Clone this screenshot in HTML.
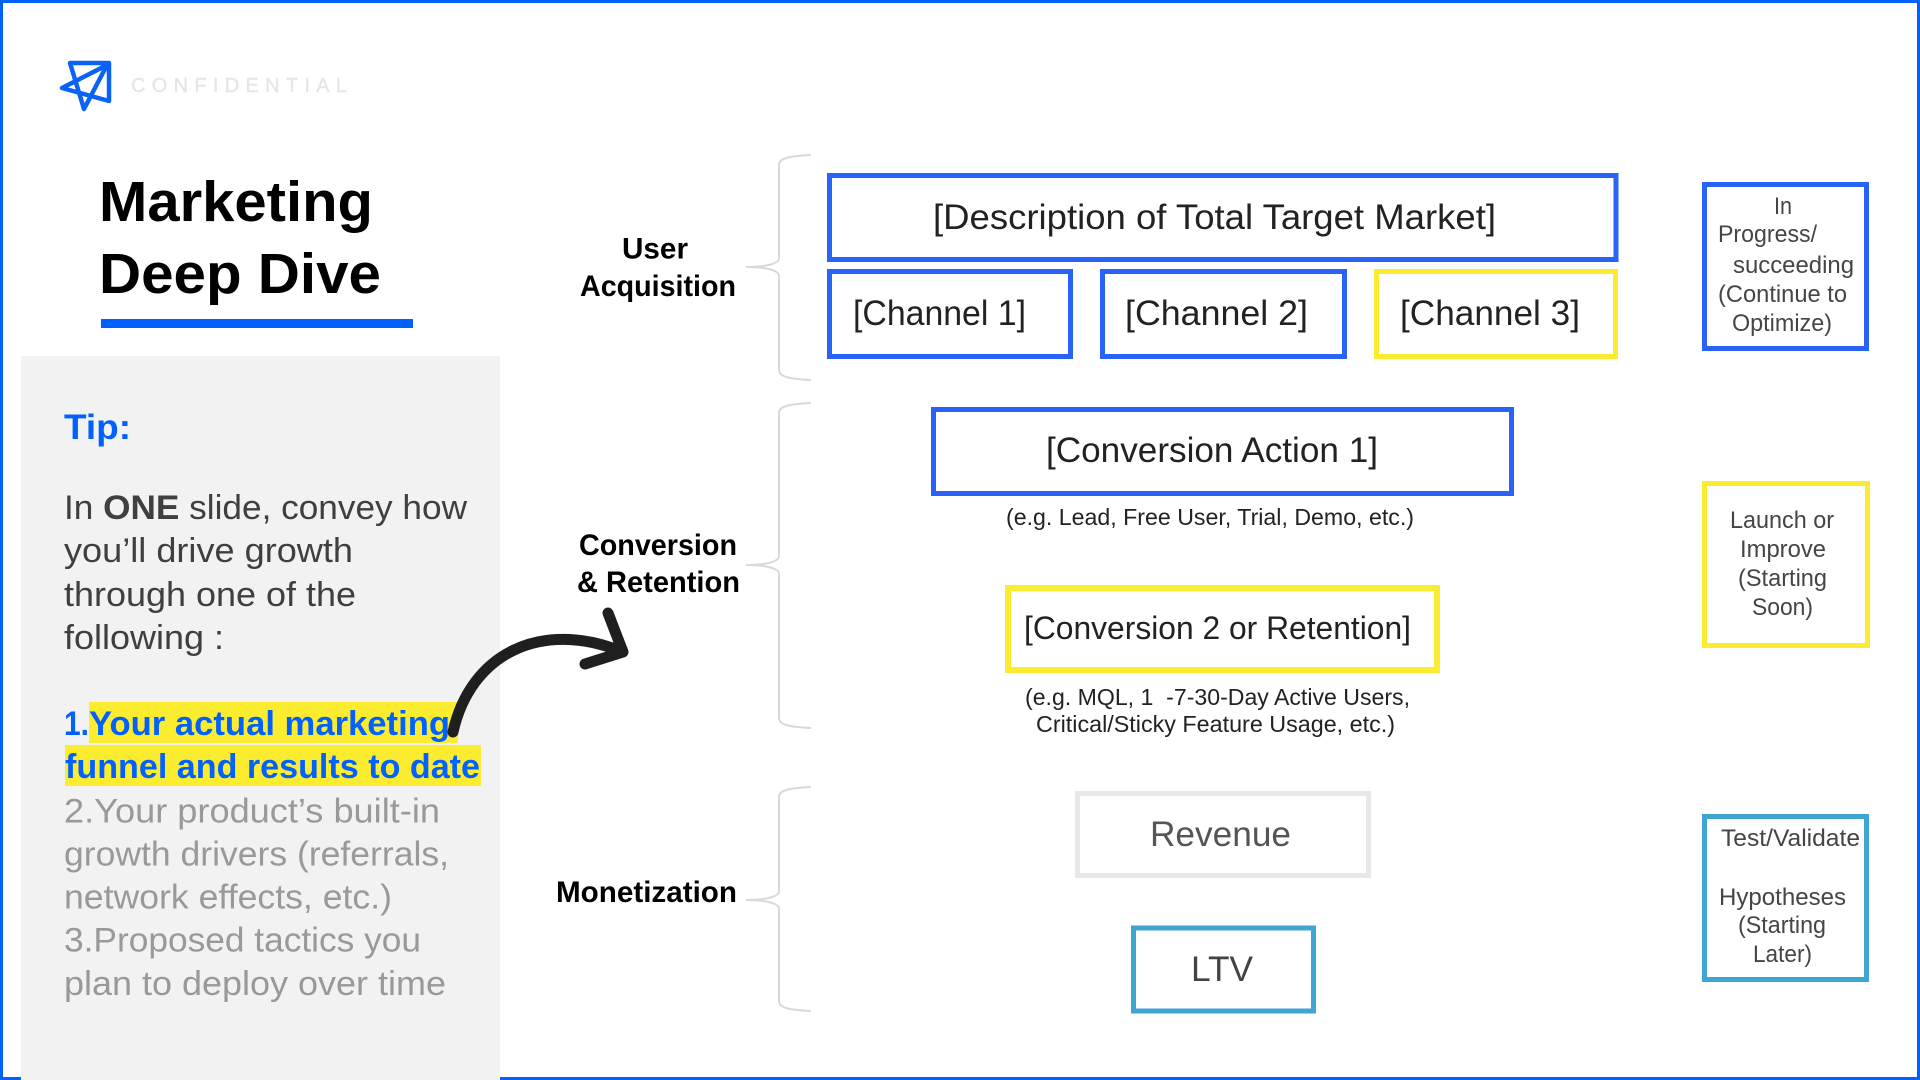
<!DOCTYPE html>
<html lang="en">
<head>
<meta charset="utf-8">
<title>Marketing Deep Dive</title>
<style>
html,body{margin:0;padding:0;background:#fff;width:1920px;height:1080px;overflow:hidden}
svg{display:block}
text{font-family:"Liberation Sans",Arial,sans-serif}
.b{font-weight:bold}
.label{font-size:29.5px;font-weight:bold;fill:#000}
.body{font-size:34.5px;fill:#3f3f3f}
.grey{font-size:34.5px;fill:#999}
.blue{font-size:34.5px;font-weight:bold;fill:#0061ff}
.box{font-size:35px;fill:#222}
.small{font-size:23.5px;fill:#222}
.side{font-size:24px;fill:#454545}
</style>
</head>
<body>
<svg width="1920" height="1080" viewBox="0 0 1920 1080" xmlns="http://www.w3.org/2000/svg">
<rect width="1920" height="1080" fill="#fff"/>
<rect x="1.5" y="1.5" width="1917" height="1077" fill="none" stroke="#0061ff" stroke-width="3"/>

<!-- logo -->
<path d="M70 63H109V101L62 88L107 65M70 63L84 109L107 65" fill="none" stroke="#0a62f7" stroke-width="4.5" stroke-linejoin="round" stroke-linecap="round"/>
<text x="131" y="92" font-size="20" fill="#e6e6e6" stroke="#e6e6e6" stroke-width="0.4" textLength="216">CONFIDENTIAL</text>

<!-- title -->
<text x="99" y="221" font-size="57" class="b" fill="#000" textLength="274" lengthAdjust="spacingAndGlyphs">Marketing</text>
<text x="99" y="293" font-size="57" class="b" fill="#000" textLength="282" lengthAdjust="spacingAndGlyphs">Deep Dive</text>
<rect x="101" y="319" width="312" height="9" fill="#0061ff"/>

<!-- panel -->
<rect x="21" y="356" width="479" height="724" fill="#f2f2f2"/>
<rect x="89" y="702" width="369" height="41" fill="#fcec30"/>
<rect x="65" y="745" width="416" height="41" fill="#fcec30"/>

<text x="64" y="439" font-size="35" class="b" fill="#0061ff" textLength="67" lengthAdjust="spacingAndGlyphs">Tip:</text>
<text x="64" y="519" class="body" textLength="403" lengthAdjust="spacingAndGlyphs">In <tspan class="b">ONE</tspan> slide, convey how</text>
<text x="64" y="562" class="body" textLength="289" lengthAdjust="spacingAndGlyphs">you’ll drive growth</text>
<text x="64" y="606" class="body" textLength="292" lengthAdjust="spacingAndGlyphs">through one of the</text>
<text x="64" y="649" class="body" textLength="160" lengthAdjust="spacingAndGlyphs">following :</text>
<text x="64" y="735" class="blue" textLength="25" lengthAdjust="spacingAndGlyphs">1.</text>
<text x="89" y="735" class="blue" textLength="361" lengthAdjust="spacingAndGlyphs">Your actual marketing</text>
<text x="65" y="778" class="blue" textLength="415" lengthAdjust="spacingAndGlyphs">funnel and results to date</text>
<text x="64" y="822.5" class="grey" textLength="376" lengthAdjust="spacingAndGlyphs">2.Your product’s built-in</text>
<text x="64" y="865.5" class="grey" textLength="385" lengthAdjust="spacingAndGlyphs">growth drivers (referrals,</text>
<text x="64" y="908.5" class="grey" textLength="328" lengthAdjust="spacingAndGlyphs">network effects, etc.)</text>
<text x="64" y="951.5" class="grey" textLength="357" lengthAdjust="spacingAndGlyphs">3.Proposed tactics you</text>
<text x="64" y="995" class="grey" textLength="382" lengthAdjust="spacingAndGlyphs">plan to deploy over time</text>

<!-- arrow -->
<path d="M453 732C470 655 540 618 623 652M608 613L623 652L585 664" fill="none" stroke="#1f1f1f" stroke-width="11" stroke-linecap="round" stroke-linejoin="round"/>

<!-- section labels -->
<text x="622" y="258.5" class="label" textLength="66" lengthAdjust="spacingAndGlyphs">User</text>
<text x="580" y="296" class="label" textLength="156" lengthAdjust="spacingAndGlyphs">Acquisition</text>
<text x="579" y="555" class="label" textLength="158" lengthAdjust="spacingAndGlyphs">Conversion</text>
<text x="577" y="592" class="label" textLength="163" lengthAdjust="spacingAndGlyphs">&amp; Retention</text>
<text x="556" y="902" class="label" textLength="181" lengthAdjust="spacingAndGlyphs">Monetization</text>

<!-- braces -->
<g fill="none" stroke="#d9d9d9" stroke-width="2">
<path d="M811 155C790 156 779 158 779 165V258C779 264 765 267 746 267C765 267 779 270 779 276V370C779 377 790 379 811 380"/>
<path d="M811 403C790 404 779 406 779 413V556C779 562 765 565 746 565C765 565 779 568 779 574V718C779 725 790 727 811 728"/>
<path d="M811 787C790 788 779 790 779 797V891C779 897 765 900 746 900C765 900 779 903 779 909V1001C779 1008 790 1010 811 1011"/>
</g>

<!-- main boxes -->
<g fill="none" stroke-width="5">
<rect x="829.5" y="175.5" width="786.5" height="84" stroke="#2962f6"/>
<rect x="829.5" y="271.5" width="241" height="85" stroke="#2962f6"/>
<rect x="1102.5" y="271.5" width="242" height="85" stroke="#2962f6"/>
<rect x="1376.5" y="271.5" width="239" height="85" stroke="#fcec30"/>
<rect x="933.5" y="409.5" width="578" height="84" stroke="#2962f6"/>
<rect x="1008" y="588" width="429" height="82" stroke="#fcec30" stroke-width="6"/>
<rect x="1077.5" y="793.5" width="291" height="82" stroke="#e8e8e8"/>
<rect x="1133.5" y="928" width="180" height="83" stroke="#3fa5d1"/>
<rect x="1704.5" y="184.5" width="162" height="164" stroke="#2962f6"/>
<rect x="1704.5" y="483.5" width="163" height="162" stroke="#fcec30"/>
<rect x="1704.5" y="816.5" width="162" height="163" stroke="#3fa5d1"/>
</g>

<text x="933" y="229" class="box" textLength="563" lengthAdjust="spacingAndGlyphs">[Description of Total Target Market]</text>
<text x="853" y="325" class="box" textLength="173" lengthAdjust="spacingAndGlyphs">[Channel 1]</text>
<text x="1125" y="325" class="box" textLength="183" lengthAdjust="spacingAndGlyphs">[Channel 2]</text>
<text x="1400" y="325" class="box" textLength="180" lengthAdjust="spacingAndGlyphs">[Channel 3]</text>
<text x="1046" y="462" class="box" textLength="332" lengthAdjust="spacingAndGlyphs">[Conversion Action 1]</text>
<text x="1024" y="639" font-size="32" fill="#222" textLength="387" lengthAdjust="spacingAndGlyphs">[Conversion 2 or Retention]</text>
<text x="1006" y="525" class="small" textLength="408" lengthAdjust="spacingAndGlyphs">(e.g. Lead, Free User, Trial, Demo, etc.)</text>
<text x="1025" y="705" class="small" textLength="385" lengthAdjust="spacingAndGlyphs">(e.g. MQL, 1&#160;&#160;-7-30-Day Active Users,</text>
<text x="1036" y="732" class="small" textLength="359" lengthAdjust="spacingAndGlyphs">Critical/Sticky Feature Usage, etc.)</text>
<text x="1150" y="846" class="box" style="fill:#555" textLength="141" lengthAdjust="spacingAndGlyphs">Revenue</text>
<text x="1191" y="981" class="box" style="fill:#434343" textLength="62" lengthAdjust="spacingAndGlyphs">LTV</text>

<!-- side legend -->
<text x="1774" y="214" class="side" textLength="18" lengthAdjust="spacingAndGlyphs">In</text>
<text x="1718" y="242" class="side" textLength="99" lengthAdjust="spacingAndGlyphs">Progress/</text>
<text x="1733" y="273" class="side" textLength="121" lengthAdjust="spacingAndGlyphs">succeeding</text>
<text x="1718" y="302" class="side" textLength="129" lengthAdjust="spacingAndGlyphs">(Continue to</text>
<text x="1732" y="331" class="side" textLength="100" lengthAdjust="spacingAndGlyphs">Optimize)</text>

<text x="1730" y="528" class="side" textLength="104" lengthAdjust="spacingAndGlyphs">Launch or</text>
<text x="1740" y="557" class="side" textLength="86" lengthAdjust="spacingAndGlyphs">Improve</text>
<text x="1738" y="586" class="side" textLength="89" lengthAdjust="spacingAndGlyphs">(Starting</text>
<text x="1752" y="615" class="side" textLength="61" lengthAdjust="spacingAndGlyphs">Soon)</text>

<text x="1721" y="846" class="side" textLength="139" lengthAdjust="spacingAndGlyphs">Test/Validate</text>
<text x="1719" y="905" class="side" textLength="127" lengthAdjust="spacingAndGlyphs">Hypotheses</text>
<text x="1738" y="933" class="side" textLength="88" lengthAdjust="spacingAndGlyphs">(Starting</text>
<text x="1753" y="962" class="side" textLength="59" lengthAdjust="spacingAndGlyphs">Later)</text>
</svg>
</body>
</html>
